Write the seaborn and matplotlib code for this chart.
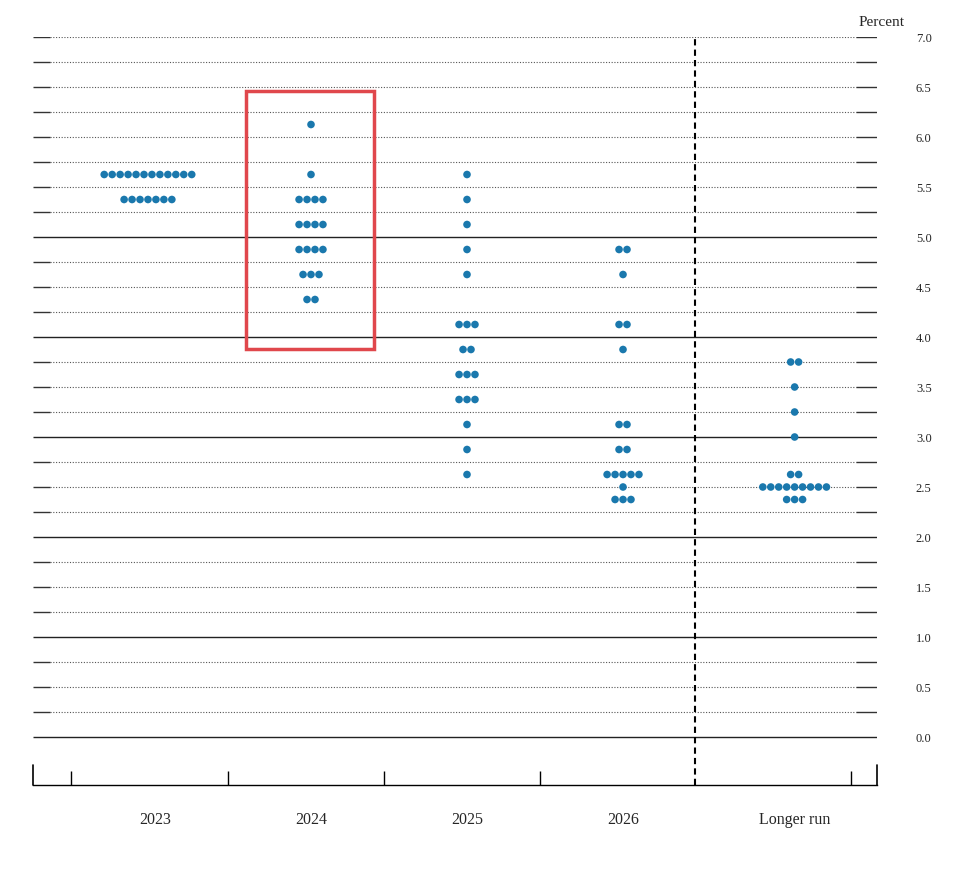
import numpy as np
import pandas as pd
import matplotlib
matplotlib.use("Agg")
import matplotlib.pyplot as plt
import seaborn as sns
from matplotlib.patches import Rectangle

categories = ["2023", "2024", "2025", "2026", "Longer run"]
rates_2023 = [5.625, 5.375]
counts_2023 = [12, 7]
rates_2024 = [6.125, 5.625, 5.375, 5.125, 4.875, 4.625, 4.375]
counts_2024 = [1, 1, 4, 4, 4, 3, 2]
rates_2025 = [5.625, 5.375, 5.125, 4.875, 4.625, 4.125, 3.875, 3.625, 3.375, 3.125, 2.875, 2.625]
counts_2025 = [1, 1, 1, 1, 1, 3, 2, 3, 3, 1, 1, 1]
rates_2026 = [4.875, 4.625, 4.125, 3.875, 3.125, 2.875, 2.625, 2.5, 2.375]
counts_2026 = [2, 1, 2, 1, 2, 2, 5, 1, 3]
rates_lr = [3.75, 3.5, 3.25, 3.0, 2.625, 2.5, 2.375]
counts_lr = [2, 1, 1, 1, 2, 9, 3]
ytick_values = [0.0, 0.5, 1.0, 1.5, 2.0, 2.5, 3.0, 3.5, 4.0, 4.5, 5.0, 5.5, 6.0, 6.5, 7.0]

sns.set_theme(style="white")
plt.rcParams['font.family'] = ['Liberation Serif', 'DejaVu Serif']

label_x = [0.0, 1.0, 2.0, 3.0, 4.1]
dot_x = [-0.045, 1.0, 2.0, 3.0, 4.1]
spacing = 0.051
rows = []
for cat, x0, rates, counts in zip(categories, dot_x,
                                  [rates_2023, rates_2024, rates_2025, rates_2026, rates_lr],
                                  [counts_2023, counts_2024, counts_2025, counts_2026, counts_lr]):
    for r, n in zip(rates, counts):
        for i in range(n):
            rows.append({"cat": cat, "x": x0 + (i - (n - 1) / 2) * spacing, "rate": r})
df = pd.DataFrame(rows)

fig = plt.figure(figsize=(9.75, 8.74), dpi=100)
ax = fig.add_axes([33 / 975, (874 - 785) / 874, (877 - 33) / 975, (785 - 37) / 874])
xl, xr = -0.782, 4.628
ax.set_xlim(xl, xr)
ax.set_ylim(-0.48, 7.0)

edge = 0.11
for v in np.arange(0, 7.01, 0.25):
    if abs(v - round(v)) < 1e-9 and v <= 5:
        ax.hlines(v, xl, xr, color="#222222", lw=1.0, zorder=1)
    else:
        ax.hlines(v, xl + edge, xr - edge * 1.2, color="#555555", lw=0.8, linestyle=(0, (1, 1.5)), zorder=1)
        ax.hlines(v, xl, xl + edge, color="#333333", lw=1.0, zorder=1)
        ax.hlines(v, xr - edge * 1.2, xr, color="#333333", lw=1.0, zorder=1)

ax.axvline(3.462, color="black", lw=1.5, linestyle=(0, (3, 2)), zorder=1)

sns.scatterplot(data=df, x="x", y="rate", ax=ax, color="#1a78ad", s=30,
                edgecolor="none", legend=False, zorder=3)

ax.add_patch(Rectangle((0.583, 3.88), 0.82, 2.58, fill=False, edgecolor="#e0474c", lw=2.5, zorder=4))

for s in ["left", "right", "top"]:
    ax.spines[s].set_visible(False)
ax.spines["bottom"].set_color("black")
ax.spines["bottom"].set_linewidth(1.0)

ax.set_xticks([-0.54, 0.47, 1.47, 2.47, 4.46])
ax.set_xticklabels([])
ax.tick_params(axis="x", direction="in", length=10, width=1, color="black", bottom=True)
for xe in [xl, xr]:
    ax.plot([xe, xe], [-0.48, -0.28], color="black", lw=1.2, clip_on=False)
for cat, x0 in zip(categories, label_x):
    ax.text(x0, -0.83, cat, ha="center", va="center", fontsize=11.5)

ax.yaxis.tick_right()
ax.set_yticks(ytick_values)
ax.set_yticklabels([f"{v:.1f}" for v in ytick_values], fontsize=9)
ax.tick_params(axis="y", length=0, pad=28)
ax.set_xlabel("")
ax.set_ylabel("")
ax.text(xr - 0.12, 7.08, "Percent", ha="left", va="bottom", fontsize=11)

fig.savefig("out.png", dpi=100)
